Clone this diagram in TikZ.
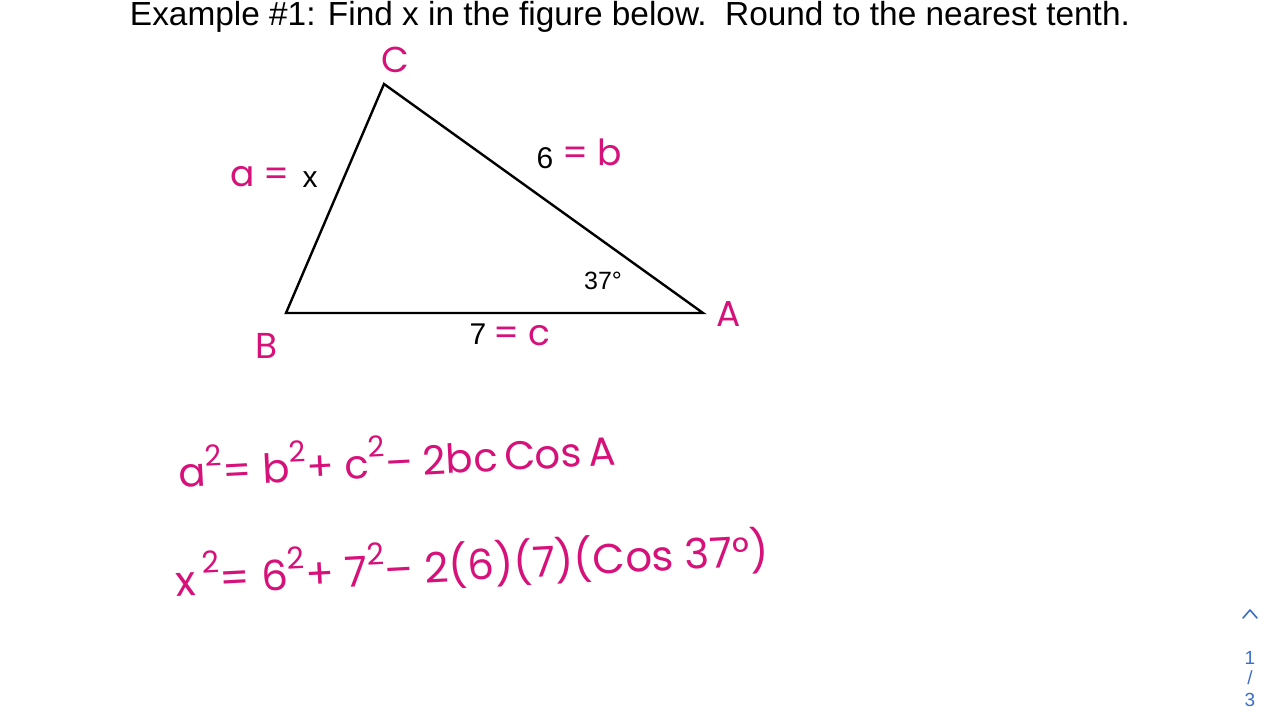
\documentclass[tikz,border=0pt]{standalone}
\usepackage{fontspec}
\setmainfont{Liberation Sans}
\newfontfamily\hand{Poppins}
\definecolor{pen}{RGB}{214,18,122}
\definecolor{ui}{RGB}{60,110,200}
\newcommand{\sq}{\raisebox{0.5em}{\fontsize{26}{26}\selectfont 2}}
\begin{document}
\begin{tikzpicture}[x=1pt,y=-1pt,
  pentext/.style={text=pen,font=\hand\fontsize{36}{36}\selectfont,inner sep=0pt},
  blk/.style={text=black,font=\fontsize{30}{30}\selectfont,inner sep=0pt},
  uitext/.style={text=ui,font=\fontsize{19}{19}\selectfont,inner sep=0pt}]
\useasboundingbox (0,0) rectangle (1280,720);
\fill[white] (0,0) rectangle (1280,720);
% title
\node[inner sep=0pt,anchor=north] (title) at (630,1)
  {\resizebox{1000pt}{!}{\fontsize{30}{30}\selectfont Example \#1: Find x in the figure below.\ \ Round to the nearest tenth.}};
% triangle
\coordinate (B) at (286,313);
\coordinate (C) at (384,84);
\coordinate (A) at (703,313);
\draw[line width=2.4pt,line join=miter] (B) -- (C) -- (A) -- cycle;
% vertex labels
\node[pentext] (lC) at (395,60) {C};
\node[pentext] (lA) at (729,314) {A};
\node[pentext] (lB) at (267,346) {B};
% side labels
\node[pentext] (la) at (260,177) {a =};
\node[blk] (lx) at (310,180) {x};
\node[blk] (l6) at (545,158) {6};
\node[pentext] (lb) at (592,152) {= b};
\node[blk] (l7) at (478,334) {7};
\node[pentext] (lc) at (522,336) {= c};
\node[text=black,font=\fontsize{25}{25}\selectfont,inner sep=0pt] (ang) at (603,281) {37°};
% equations
\node[inner sep=0pt,rotate=3] (eq1) at (397,456)
  {\resizebox{437pt}{!}{\color{pen}\hand\fontsize{36}{36}\selectfont a\sq= b\sq+ c\sq– 2bc\,Cos\,A}};
\node[inner sep=0pt,rotate=3] (eq2) at (472,563)
  {\resizebox{594pt}{!}{\color{pen}\hand\fontsize{36}{36}\selectfont x\,\sq= 6\sq+ 7\sq – 2(6)(7)(Cos 37°)}};
% page indicator
\coordinate (up) at (1250,618);
\draw[ui,line width=1.6pt,line cap=round,line join=round] (up) ++(-7,0) -- ++(7,-8) -- ++(7,8);
\node[uitext] (p1) at (1250,658) {1};
\node[uitext] (sl) at (1250,678) {/};
\node[uitext] (p3) at (1250,700) {3};
\end{tikzpicture}
\end{document}
